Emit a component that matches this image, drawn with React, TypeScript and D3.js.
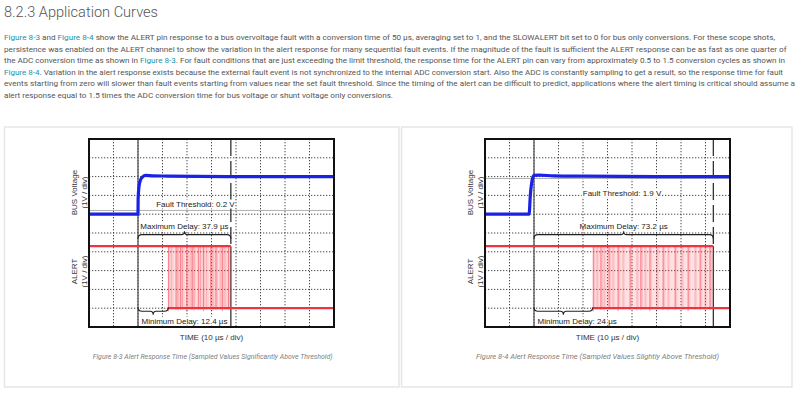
import React from "react";
import * as d3 from "d3";

// ---------- text content ----------
const TITLE = "8.2.3 Application Curves";
type Seg = [string, boolean];
const BODY_LINES: Seg[][] = [
  [["Figure 8-3", true], [" and ", false], ["Figure 8-4", true], [" show the ALERT pin response to a bus overvoltage fault with a conversion time of 50 µs, averaging set to 1, and the SLOWALERT bit set to 0 for bus only conversions. For these scope shots,", false]],
  [["persistence was enabled on the ALERT channel to show the variation in the alert response for many sequential fault events. If the magnitude of the fault is sufficient the ALERT response can be as fast as one quarter of", false]],
  [["the ADC conversion time as shown in ", false], ["Figure 8-3", true], [". For fault conditions that are just exceeding the limit threshold, the response time for the ALERT pin can vary from approximately 0.5 to 1.5 conversion cycles as shown in", false]],
  [["Figure 8-4", true], [". Variation in the alert response exists because the external fault event is not synchronized to the internal ADC conversion start. Also the ADC is constantly sampling to get a result, so the response time for fault", false]],
  [["events starting from zero will slower than fault events starting from values near the set fault threshold. Since the timing of the alert can be difficult to predict, applications where the alert timing is critical should assume a", false]],
  [["alert response equal to 1.5 times the ADC conversion time for bus voltage or shunt voltage only conversions.", false]],
];
const BODY_LINE_ENDS = [775, 786.5, 785, 783, 795, 393];

// ---------- scope settings ----------
const TIME_DOMAIN: [number, number] = [-20, 80]; // µs, 10 µs / div
const DIV_DOMAIN: [number, number] = [0, 10];
const GRID_DIVS = d3.range(0, 11);
const BUS_OFFSET_DIV = 6;
const ALERT_OFFSET_DIV = 1;
const ALERT_HIGH = 3.3;

// Figure 8-3 (significantly above threshold)
const FIG3_BUS: [number, number][] = [
  [-20, 0], [0, 0], [0.05, 0.8], [0.4, 1.45], [1, 1.82], [2, 2.0], [3, 2.06], [6, 2.04], [12, 2.03], [40, 2.0], [80, 2.0],
];
const FIG3_THRESHOLD = 0.2;
const FIG3_MIN_DELAY = 12.4;
const FIG3_MAX_DELAY = 37.9;
const FIG3_EDGES = [12.4, 13.7, 15.5, 16.3, 17.4, 18.2, 19.9, 21.2, 22.1, 22.9, 24.6, 25.5, 26.7, 28.0, 29.7, 30.6, 31.8, 33.5, 34.4, 35.5, 36.9];
const FIG3_CAPTION = "Figure 8-3 Alert Response Time (Sampled Values Significantly Above Threshold)";
const FIG3_LABELS = { threshold: "Fault Threshold: 0.2 V", max: "Maximum Delay: 37.9 µs", min: "Minimum Delay: 12.4 µs" };

// Figure 8-4 (slightly above threshold)
const FIG4_BUS: [number, number][] = [
  [-20, 0], [-2.0, 0], [-1.5, 1.0], [-0.6, 1.9], [0, 2.07], [2, 2.08], [8, 2.04], [20, 2.02], [50, 2.0], [80, 2.0],
];
const FIG4_THRESHOLD = 1.9;
const FIG4_MIN_DELAY = 24;
const FIG4_MAX_DELAY = 73.2;
const FIG4_EDGES = [24.2, 25.7, 27.3, 28.6, 30.6, 32.2, 34.3, 36.3, 39.2, 42.0, 43.6, 45.3, 47.3, 50.2, 52.7, 54.7, 57.6, 60.4, 62.9, 65.7, 67.8, 69.8, 71.8];
const FIG4_CAPTION = "Figure 8-4 Alert Response Time (Sampled Values Slightly Above Threshold)";
const FIG4_LABELS = { threshold: "Fault Threshold: 1.9 V", max: "Maximum Delay: 73.2 µs", min: "Minimum Delay: 24 µs" };

const SANS = "Roboto, 'Noto Sans', sans-serif";
const ARIAL = "'Liberation Sans', Arial, sans-serif";
const BLUE = "#1a22e6";
const RED = "#ef3340";

interface ScopeProps {
  left: number;
  top: number;
  bus: [number, number][];
  threshold: number;
  minDelay: number;
  maxDelay: number;
  edges: number[];
  labels: { threshold: string; max: string; min: string };
  thresholdText: { t: number; dy: number };
  caption: string;
  captionX: [number, number];
}

function Scope(p: ScopeProps) {
  const w = 245, h = 188;
  const x = d3.scaleLinear().domain(TIME_DOMAIN).range([p.left, p.left + w]);
  const y = d3.scaleLinear().domain(DIV_DOMAIN).range([p.top + h, p.top]);
  const busY = (v: number) => y(BUS_OFFSET_DIV + v);
  const alertY = (v: number) => y(ALERT_OFFSET_DIV + v);
  const busLine = d3.line<[number, number]>().x(d => x(d[0])).y(d => busY(d[1])).curve(d3.curveMonotoneX);
  const xs = d3.range(1, 10).map(i => TIME_DOMAIN[0] + i * 10);
  const ys = GRID_DIVS.slice(1, 10);
  const t0 = x(0), tMin = x(p.minDelay), tMax = x(p.maxDelay);
  const hiY = alertY(ALERT_HIGH), loY = alertY(0);
  const thrY = busY(p.threshold);

  const bY = hiY - 11.5;
  const bm = (t0 + tMax) / 2;
  const maxBrace = `M${t0},${bY + 4} Q${t0},${bY} ${t0 + 4},${bY} L${bm - 3},${bY} Q${bm},${bY} ${bm},${bY - 3.5} Q${bm},${bY} ${bm + 3},${bY} L${tMax - 4},${bY} Q${tMax},${bY} ${tMax},${bY + 4}`;
  const mY = loY + 3;
  const mm = (t0 + tMin) / 2;
  const minBrace = `M${t0},${mY - 4} Q${t0},${mY} ${t0 + 4},${mY} L${mm - 3},${mY} Q${mm},${mY} ${mm},${mY + 3.5} Q${mm},${mY} ${mm + 3},${mY} L${tMin - 4},${mY} Q${tMin},${mY} ${tMin},${mY - 4}`;

  const thrTextX = x(p.thresholdText.t);
  const thrTextY = thrY + p.thresholdText.dy;
  const maxTextY = bY - 9;
  const minTextY = mY + 10;
  const tw = (s: string) => s.length * 3.45;

  return (
    <g>
      {xs.map(t => (
        <line key={"gx" + t} x1={x(t)} x2={x(t)} y1={p.top} y2={p.top + h} stroke="#333" strokeWidth={0.9} strokeDasharray="1.3,1.7" />
      ))}
      {ys.map(d => (
        <line key={"gy" + d} x1={p.left} x2={p.left + w} y1={y(d)} y2={y(d)} stroke="#333" strokeWidth={0.9} strokeDasharray="1.3,1.7" />
      ))}
      <line x1={p.left} x2={p.left + w} y1={thrY} y2={thrY} stroke="#b0b0b0" strokeWidth={1} />
      <line x1={t0} x2={t0} y1={p.top} y2={p.top + h} stroke="#555" strokeWidth={1.3} />
      <line x1={tMax} x2={tMax} y1={p.top} y2={hiY} stroke="#333" strokeWidth={1.3} strokeDasharray="17,5" />
      <line x1={tMax} x2={tMax} y1={hiY} y2={p.top + h} stroke="#333" strokeWidth={1.3} />
      <rect x={tMin} y={hiY} width={tMax - tMin} height={loY - hiY} fill="#ff6a75" opacity={0.2} />
      {p.edges.map((t, i) => (
        <rect key={"b" + i} x={x(t)} y={hiY} width={x(t + 0.9) - x(t)} height={loY - hiY} fill="#ff4d5a" opacity={i % 2 ? 0.12 : 0.2} />
      ))}
      {p.edges.map((t, i) => (
        <line key={"e" + i} x1={x(t)} x2={x(t)} y1={hiY} y2={loY + (i % 3 === 0 ? 3 : 1.5)} stroke={RED} strokeWidth={i % 2 ? 0.7 : 1} opacity={i % 2 ? 0.35 : 0.55} />
      ))}
      <line x1={x(TIME_DOMAIN[0])} x2={tMax} y1={hiY} y2={hiY} stroke={RED} strokeWidth={2.2} />
      <line x1={tMin} x2={x(TIME_DOMAIN[1])} y1={loY} y2={loY} stroke={RED} strokeWidth={2.2} />
      <path d={busLine(p.bus) || ""} fill="none" stroke={BLUE} strokeWidth={3.2} />
      <g fontFamily={ARIAL} fontSize={8} fill="#222">
        <rect x={thrTextX - 1} y={thrTextY - 4.5} width={tw(p.labels.threshold) + 2} height={9} fill="#fff" />
        <text x={thrTextX} y={thrTextY + 3}>{p.labels.threshold}</text>
        <rect x={bm - tw(p.labels.max) / 2 - 1} y={maxTextY - 4.5} width={tw(p.labels.max) + 2} height={9} fill="#fff" />
        <text x={bm} y={maxTextY + 3} textAnchor="middle">{p.labels.max}</text>
        <rect x={t0 + 2.5} y={minTextY - 4.5} width={tw(p.labels.min) + 2} height={9} fill="#fff" />
        <text x={t0 + 3.5} y={minTextY + 3}>{p.labels.min}</text>
      </g>
      <path d={maxBrace} fill="none" stroke="#222" strokeWidth={1.1} />
      <path d={minBrace} fill="none" stroke="#222" strokeWidth={1.1} />
      <rect x={p.left} y={p.top} width={w} height={h} fill="none" stroke="#111" strokeWidth={2} />
      <g fontFamily={ARIAL} fontSize={8} fill="#333" textAnchor="middle">
        <text transform={`translate(${p.left - 12.5},${y(BUS_OFFSET_DIV + 1.15)}) rotate(-90)`}>BUS Voltage</text>
        <text transform={`translate(${p.left - 2.5},${y(BUS_OFFSET_DIV + 1.15)}) rotate(-90)`}>(1V / div)</text>
        <text transform={`translate(${p.left - 12.5},${y(ALERT_OFFSET_DIV + 1.95)}) rotate(-90)`}>ALERT</text>
        <text transform={`translate(${p.left - 2.5},${y(ALERT_OFFSET_DIV + 1.95)}) rotate(-90)`}>(1V / div)</text>
        <text x={p.left + w / 2} y={p.top + h + 12.7}>TIME (10 µs / div)</text>
      </g>
      <text x={p.captionX[0]} y={p.top + h + 31.5} fontFamily={SANS} fontStyle="italic" fontSize={8} fill="#808080"
        textLength={p.captionX[1] - p.captionX[0]} lengthAdjust="spacingAndGlyphs">{p.caption}</text>
    </g>
  );
}

export default function App() {
  const lineY = 37.3;
  return (
    <svg width={800} height={393} style={{ position: "absolute", left: 0, top: 0, display: "block", background: "#fff" }}>
      <text x={4} y={17} fontFamily={SANS} fontWeight={300} fontSize={14} fill="#555" textLength={154} lengthAdjust="spacingAndGlyphs">{TITLE}</text>
      {BODY_LINES.map((segs, i) => {
        const yy = lineY + i * 11.5 + 2.9;
        return (
          <text key={i} x={4} y={yy} fontFamily={SANS} fontSize={8} fill="#555" textLength={BODY_LINE_ENDS[i] - 4} lengthAdjust="spacingAndGlyphs">
            {segs.map((s, j) => (
              <tspan key={j} fill={s[1] ? "#1c93a6" : "#555"}>{s[0]}</tspan>
            ))}
          </text>
        );
      })}
      <rect x={4.5} y={127} width={394.5} height={260} fill="none" stroke="#e6e6e6" strokeWidth={1.5} />
      <rect x={401.5} y={127} width={390.5} height={260} fill="none" stroke="#e6e6e6" strokeWidth={1.5} />
      <Scope left={89} top={139} bus={FIG3_BUS} threshold={FIG3_THRESHOLD} minDelay={FIG3_MIN_DELAY} maxDelay={FIG3_MAX_DELAY}
        edges={FIG3_EDGES} labels={FIG3_LABELS} thresholdText={{ t: 7.4, dy: -6.4 }}
        caption={FIG3_CAPTION} captionX={[92.7, 332.7]} />
      <Scope left={485} top={139} bus={FIG4_BUS} threshold={FIG4_THRESHOLD} minDelay={FIG4_MIN_DELAY} maxDelay={FIG4_MAX_DELAY}
        edges={FIG4_EDGES} labels={FIG4_LABELS} thresholdText={{ t: 19.9, dy: 14.5 }}
        caption={FIG4_CAPTION} captionX={[476, 719]} />
    </svg>
  );
}
